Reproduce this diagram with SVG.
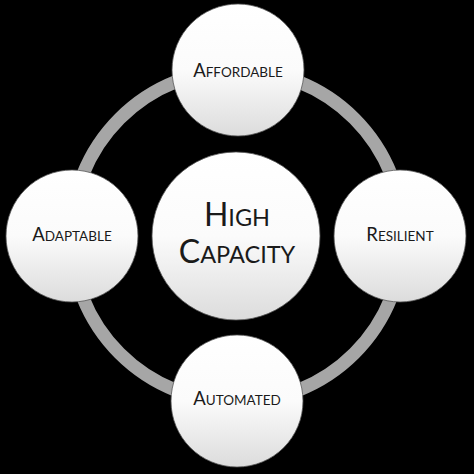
<svg xmlns="http://www.w3.org/2000/svg" width="474" height="474" viewBox="0 0 474 474">
<defs>
<linearGradient id="g" x1="0" y1="0" x2="0" y2="1">
<stop offset="0" stop-color="#ffffff"/>
<stop offset="0.5" stop-color="#fbfbfb"/>
<stop offset="1" stop-color="#dcdcdc"/>
</linearGradient>
<style>
.c{fill:url(#g);stroke:#555;stroke-width:0.8}
.t{font-family:Lato,"Open Sans","Liberation Sans",sans-serif;fill:#1a1a1a;text-anchor:middle}
.s{font-size:18.5px}
.s .k{font-size:13.5px}
.b{font-size:32px}
.b .k{font-size:23.5px}
</style>
</defs>
<rect width="474" height="474" fill="#000"/>
<g id="connectors">
<circle cx="237" cy="236" r="166" fill="none" stroke="#a6a6a6" stroke-width="13"/>
</g>
<g id="center">
<circle class="c" cx="236" cy="236" r="84"/>
<text class="t b" x="237" y="226">H<tspan class="k">IGH</tspan></text>
<text class="t b" x="237" y="263">C<tspan class="k">APACITY</tspan></text>
</g>
<g id="affordable">
<circle class="c" cx="238" cy="70" r="66"/>
<text class="t s" x="238" y="77">A<tspan class="k">FFORDABLE</tspan></text>
</g>
<g id="resilient">
<circle class="c" cx="400" cy="236" r="66"/>
<text class="t s" x="400" y="241">R<tspan class="k">ESILIENT</tspan></text>
</g>
<g id="automated">
<circle class="c" cx="237" cy="401" r="66"/>
<text class="t s" x="237" y="405">A<tspan class="k">UTOMATED</tspan></text>
</g>
<g id="adaptable">
<circle class="c" cx="72" cy="236" r="66"/>
<text class="t s" x="72" y="241">A<tspan class="k">DAPTABLE</tspan></text>
</g>
</svg>
